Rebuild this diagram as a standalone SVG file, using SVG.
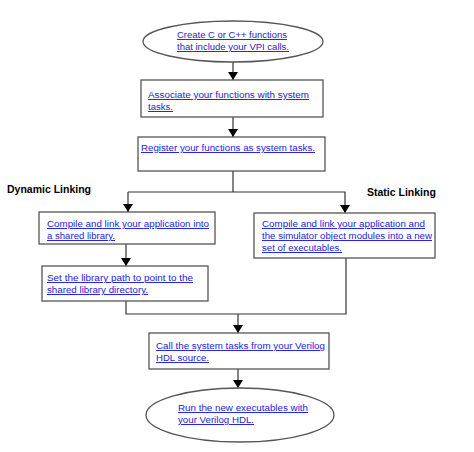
<svg xmlns="http://www.w3.org/2000/svg" width="474" height="452" viewBox="0 0 474 452">
<defs>
<style>
.box{fill:#fff;stroke:#555;stroke-width:1.3}
.t{font-family:"Liberation Sans",Arial,sans-serif;font-size:9.7px;fill:#2222dd;text-decoration:underline}
.h{font-family:"Liberation Sans",Arial,sans-serif;font-size:10.5px;font-weight:bold;fill:#000}
.ln{fill:none;stroke:#333;stroke-width:1.2}
</style>
<marker id="ah" markerWidth="8" markerHeight="10" refX="8" refY="5" orient="auto" markerUnits="userSpaceOnUse" viewBox="0 0 8 10">
<path d="M0,0 L8,5 L0,10 Z" fill="#000"/>
</marker>
</defs>
<rect width="474" height="452" fill="#fff"/>
<g id="connectors">
<line class="ln" x1="233" y1="62" x2="233" y2="80" marker-end="url(#ah)"/>
<line class="ln" x1="233" y1="117" x2="233" y2="137" marker-end="url(#ah)"/>
<polyline class="ln" points="233,171 233,192"/>
<polyline class="ln" points="128,192 345,192 345,213" marker-end="url(#ah)"/>
<line class="ln" x1="128" y1="192" x2="128" y2="212" marker-end="url(#ah)"/>
<line class="ln" x1="126" y1="244" x2="126" y2="266" marker-end="url(#ah)"/>
<polyline class="ln" points="126,301 126,314 346,314 346,258"/>
<line class="ln" x1="238" y1="314" x2="238" y2="333" marker-end="url(#ah)"/>
<line class="ln" x1="238" y1="369" x2="238" y2="388" marker-end="url(#ah)"/>
</g>
<g id="labels">
<text class="h" x="7" y="193">Dynamic Linking</text>
<text class="h" x="367" y="196">Static Linking</text>
</g>
<g id="start">
<ellipse class="box" cx="233" cy="41.5" rx="90" ry="20.5"/>
<text class="t" x="177" y="38" textLength="110" lengthAdjust="spacingAndGlyphs">Create C or C++ functions</text>
<text class="t" x="177" y="50" textLength="112" lengthAdjust="spacingAndGlyphs">that include your VPI calls.</text>
</g>
<g id="associate">
<rect class="box" x="141" y="80" width="182" height="37"/>
<text class="t" x="148" y="98" textLength="161" lengthAdjust="spacingAndGlyphs">Associate your functions with system</text>
<text class="t" x="148" y="110" textLength="25" lengthAdjust="spacingAndGlyphs">tasks.</text>
</g>
<g id="register">
<rect class="box" x="138" y="137" width="187" height="34"/>
<text class="t" x="141" y="151" textLength="174" lengthAdjust="spacingAndGlyphs">Register your functions as system tasks.</text>
</g>
<g id="compile-shared">
<rect class="box" x="39" y="212" width="176" height="32"/>
<text class="t" x="47" y="227" textLength="162" lengthAdjust="spacingAndGlyphs">Compile and link your application into</text>
<text class="t" x="47" y="239" textLength="68" lengthAdjust="spacingAndGlyphs">a shared library.</text>
</g>
<g id="set-path">
<rect class="box" x="42" y="266" width="166" height="35"/>
<text class="t" x="47" y="281" textLength="146" lengthAdjust="spacingAndGlyphs">Set the library path to point to the</text>
<text class="t" x="47" y="293" textLength="101" lengthAdjust="spacingAndGlyphs">shared library directory.</text>
</g>
<g id="compile-static">
<rect class="box" x="254" y="213" width="181" height="45"/>
<text class="t" x="262" y="227" textLength="163" lengthAdjust="spacingAndGlyphs">Compile and link your application and</text>
<text class="t" x="262" y="239" textLength="170" lengthAdjust="spacingAndGlyphs">the simulator object modules into a new</text>
<text class="t" x="262" y="251" textLength="80" lengthAdjust="spacingAndGlyphs">set of executables.</text>
</g>
<g id="call-tasks">
<rect class="box" x="149" y="333" width="180" height="36"/>
<text class="t" x="156" y="349" textLength="169" lengthAdjust="spacingAndGlyphs">Call the system tasks from your Verilog</text>
<text class="t" x="156" y="361" textLength="53" lengthAdjust="spacingAndGlyphs">HDL source.</text>
</g>
<g id="run">
<ellipse class="box" cx="240" cy="415" rx="94" ry="27"/>
<text class="t" x="178" y="411" textLength="130" lengthAdjust="spacingAndGlyphs">Run the new executables with</text>
<text class="t" x="178" y="423" textLength="76" lengthAdjust="spacingAndGlyphs">your Verilog HDL.</text>
</g>
</svg>
